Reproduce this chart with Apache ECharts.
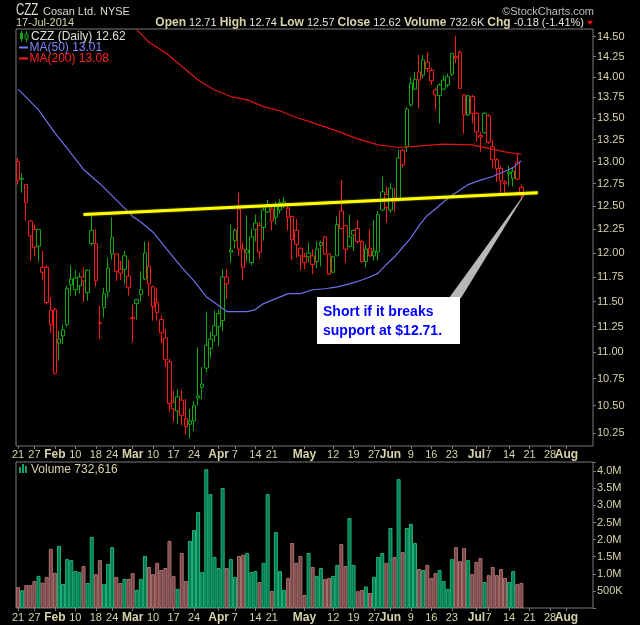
<!DOCTYPE html>
<html><head><meta charset="utf-8">
<script src="https://cdn.jsdelivr.net/npm/echarts@6/dist/echarts.min.js"></script>
<style>html,body{margin:0;padding:0;background:#000;}#c{width:640px;height:625px;}</style>
</head><body><div id="c"></div>
<script>
// ---------- DATA ----------
const dates = ['1/21','1/22','1/23','1/24','1/27','1/28','1/29','1/30','1/31',
'2/3','2/4','2/5','2/6','2/7','2/10','2/11','2/12','2/13','2/14','2/18','2/19','2/20','2/21','2/24','2/25','2/26','2/27','2/28',
'3/3','3/4','3/5','3/6','3/7','3/10','3/11','3/12','3/13','3/14','3/17','3/18','3/19','3/20','3/21','3/24','3/25','3/26','3/27','3/28','3/31',
'4/1','4/2','4/3','4/4','4/7','4/8','4/9','4/10','4/11','4/14','4/15','4/16','4/17','4/21','4/22','4/23','4/24','4/25','4/28','4/29','4/30',
'5/1','5/2','5/5','5/6','5/7','5/8','5/9','5/12','5/13','5/14','5/15','5/16','5/19','5/20','5/21','5/22','5/23','5/27','5/28','5/29','5/30',
'6/2','6/3','6/4','6/5','6/6','6/9','6/10','6/11','6/12','6/13','6/16','6/17','6/18','6/19','6/20','6/23','6/24','6/25','6/26','6/27','6/30',
'7/1','7/2','7/3','7/7','7/8','7/9','7/10','7/11','7/14','7/15','7/16','7/17','7/18','7/21','7/22','7/23','7/24','7/25','7/28','7/29','7/30','7/31',
'8/1','8/4','8/5','8/6','8/7','8/8','8/11'];

const opens = [13.00,12.81,12.74,12.34,12.25,12.25,11.85,11.85,11.27,11.42,11.09,11.16,11.27,11.67,11.62,11.66,11.75,11.59,12.10,12.10,
11.29,11.44,11.60,12.16,11.99,11.83,11.83,11.76,11.34,11.48,11.57,11.73,11.86,11.65,11.49,11.32,11.14,10.91,10.53,10.45,
10.55,10.38,10.36,10.36,10.57,10.70,10.85,11.04,11.16,11.25,11.31,11.75,12.03,12.13,12.47,12.04,12.03,11.90,12.32,12.29,
12.27,12.44,12.47,12.38,12.46,12.51,12.48,12.39,12.24,12.05,11.96,12.00,11.97,11.91,12.11,12.17,11.99,11.80,11.97,12.45,
12.29,12.07,12.24,12.26,12.12,11.91,12.05,11.97,12.01,12.46,12.63,12.46,12.59,12.57,13.13,13.17,13.66,13.85,14.06,14.02,
14.18,14.08,13.84,13.77,13.85,13.90,14.03,14.25,14.30,13.78,13.54,13.76,13.56,13.30,13.33,13.53,13.17,13.02,12.92,12.77,
12.88,12.81,12.99,12.71];
const highs = [13.04,12.87,12.75,12.35,12.30,12.25,12.02,11.87,11.54,11.44,11.21,11.27,11.66,11.87,11.82,11.79,11.85,11.83,12.42,12.25,
11.46,11.64,11.95,12.38,11.99,11.92,12.02,11.93,11.47,11.53,11.81,12.12,12.12,11.66,11.64,11.36,11.23,10.94,10.64,10.65,
10.64,10.56,10.47,10.54,11.05,10.86,11.40,11.20,11.41,11.42,11.83,11.83,12.30,12.26,12.65,12.11,12.40,12.26,12.41,12.33,
12.52,12.57,12.52,12.55,12.58,12.60,12.52,12.39,12.36,12.05,12.00,12.11,12.04,12.12,12.13,12.18,11.99,11.97,12.39,12.79,
12.30,12.41,12.25,12.35,12.14,12.09,12.25,12.35,12.45,12.83,12.72,12.76,12.70,13.13,13.14,13.63,14.00,14.06,14.27,14.27,
14.30,14.11,13.87,13.92,14.02,14.04,14.29,14.51,14.33,13.79,13.78,13.78,13.57,13.34,13.57,13.55,13.25,13.04,12.95,12.79,
12.95,12.93,13.09,12.74];
const lows = [12.74,12.65,12.34,11.92,11.97,11.91,11.72,11.47,11.19,10.79,10.92,11.08,11.25,11.56,11.56,11.58,11.50,11.51,12.08,11.65,
11.13,11.34,11.54,11.93,11.71,11.72,11.68,11.56,11.10,11.32,11.50,11.72,11.56,11.31,11.31,11.09,10.86,10.44,10.35,10.33,
10.32,10.24,10.20,10.27,10.50,10.56,10.81,10.95,11.10,11.06,11.21,11.53,11.90,12.05,11.97,11.72,11.91,11.87,12.12,11.94,
12.13,12.43,12.24,12.30,12.42,12.48,12.24,11.93,11.95,11.82,11.83,11.90,11.78,11.84,11.86,11.98,11.77,11.79,11.97,12.25,
11.90,12.06,12.02,12.10,11.90,11.85,11.96,11.92,11.92,12.45,12.32,12.43,12.44,12.55,12.93,13.11,13.64,13.84,13.62,13.98,
14.06,13.90,13.60,13.44,13.84,13.87,14.01,14.17,13.85,13.32,13.53,13.44,13.23,13.11,13.32,13.20,12.92,12.77,12.63,12.64,
12.72,12.72,12.79,12.57];
const closes = [12.79,12.80,12.54,12.18,12.06,12.07,11.80,11.49,11.41,10.80,11.13,11.22,11.63,11.73,11.74,11.75,11.71,11.82,12.24,11.71,
11.28,11.58,11.84,11.99,11.81,11.79,11.97,11.64,11.33,11.52,11.62,12.00,11.68,11.45,11.39,11.19,10.93,10.52,10.47,10.58,
10.41,10.31,10.33,10.50,10.59,10.67,11.07,11.13,11.26,11.38,11.75,11.68,12.01,12.24,12.04,11.85,12.00,12.17,12.25,12.01,
12.46,12.52,12.34,12.50,12.54,12.55,12.38,12.14,12.09,11.97,11.90,11.96,11.88,12.04,12.08,11.99,11.78,11.96,12.30,12.26,
12.04,12.17,12.19,12.12,11.91,12.04,11.97,12.02,12.41,12.66,12.49,12.70,12.55,13.04,12.96,13.61,13.92,13.97,13.96,14.21,
14.10,13.95,13.78,13.90,13.96,14.00,14.29,14.23,13.86,13.54,13.77,13.56,13.34,13.28,13.56,13.22,13.02,12.92,12.78,12.75,
12.86,12.89,12.80,12.62];
const priorClose = 13.05;

const volumes = [610000,520000,670000,670000,790000,940000,740000,910000,1730000,1030000,
1820000,700000,1430000,1400000,1080000,1050000,1230000,730000,2080000,990000,
1400000,700000,1290000,1780000,910000,730000,850000,850000,1020000,530000,
850000,1520000,1200000,990000,1320000,1110000,1170000,1960000,940000,560000,
1610000,790000,1960000,2280000,2810000,1050000,4060000,3330000,1490000,1170000,
3510000,1170000,1430000,910000,1520000,1560000,1610000,1050000,1080000,760000,
1320000,3330000,500000,2220000,1080000,530000,880000,1900000,1320000,1520000,
380000,1610000,1200000,940000,1170000,850000,880000,940000,1260000,1870000,
1230000,2630000,1260000,490000,530000,630000,440000,910000,1490000,1610000,
1320000,2340000,1490000,3770000,1640000,2340000,2460000,1900000,1140000,1110000,
1260000,880000,1020000,1110000,790000,560000,1430000,1780000,1370000,1750000,
1400000,990000,1350000,1460000,760000,960000,1200000,960000,1140000,880000,
760000,1080000,700000,732616];

const ma50Idx = [0,5,9,12,16,20,24,28,30,33,36,40,43,46,49,51,53,56,58,60,63,66,69,72,75,78,81,84,86,88,90,92,94,96,98,100,102,104,106,108,110,113,116,119,121,123];
const ma50Val = [13.85,13.60,13.33,13.15,12.91,12.75,12.57,12.39,12.33,12.22,12.06,11.85,11.71,11.55,11.46,11.40,11.40,11.40,11.42,11.48,11.53,11.58,11.58,11.62,11.63,11.65,11.68,11.72,11.75,11.79,11.88,11.96,12.06,12.16,12.29,12.40,12.47,12.55,12.62,12.68,12.74,12.79,12.83,12.89,12.93,13.01];
const ma200Idx = [29,32,36,40,44,48,52,56,60,64,68,72,78,83,88,93,96,104,111,115,119,123];
const ma200Val = [14.59,14.43,14.30,14.13,13.96,13.84,13.76,13.72,13.64,13.59,13.51,13.45,13.35,13.26,13.19,13.16,13.17,13.20,13.19,13.15,13.11,13.08];

const trendIdx = [16, 127];
const trendVal = [12.41, 12.65];

const priceTicks = [10.25,10.5,10.75,11.0,11.25,11.5,11.75,12.0,12.25,12.5,12.75,13.0,13.25,13.5,13.75,14.0,14.25,14.5];
const dateLabels = {'1/21':'21','1/27':'27','2/3':'Feb','2/10':'10','2/18':'18','2/24':'24','3/3':'Mar','3/10':'10','3/17':'17','3/24':'24',
'4/1':'Apr','4/7':'7','4/14':'14','4/21':'21','5/1':'May','5/12':'12','5/19':'19','5/27':'27','6/2':'Jun','6/9':'9','6/16':'16','6/23':'23',
'7/1':'Jul','7/7':'7','7/14':'14','7/21':'21','7/28':'28','8/1':'Aug'};
const monthNames = ['Feb','Mar','Apr','May','Jun','Jul','Aug'];

// ---------- STYLE ----------
const GREEN = '#12a812', RED = '#ff1a1a';
const VG = '#007c52', VGB = '#22b478', VR = '#7a4848', VRB = '#ad7070';
const TXT = '#d6d3aa', FRAME = '#7a7a7a', FONT = 'Liberation Sans, Arial, sans-serif';

const last = closes.length - 1;
const candleData = opens.map((o, i) => {
  const prev = i ? closes[i - 1] : priorClose;
  const col = closes[i] >= prev ? GREEN : RED;
  return { value: [o, closes[i], lows[i], highs[i]],
    itemStyle: { color: '#000', color0: col, borderColor: col, borderColor0: col } };
});
const volData = volumes.map((v, i) => {
  const prev = i ? closes[i - 1] : priorClose;
  const up = closes[i] >= prev;
  return { value: v, itemStyle: { color: up ? VG : VR, borderColor: up ? VGB : VRB } };
});

const xLabel = {
  interval: 0, color: TXT, fontSize: 11, fontFamily: FONT,
  formatter: v => { const l = dateLabels[v]; if (!l) return ''; return monthNames.includes(l) ? '{m|' + l + '}' : l; },
  rich: { m: { fontWeight: 'bold', fontSize: 12, color: TXT, fontFamily: FONT } }
};
const xTick = { show: true, alignWithLabel: true, interval: (i, v) => !!dateLabels[v], length: 3, lineStyle: { color: FRAME } };

const chg = closes[last] - closes[last - 1];
const pct = chg / closes[last - 1] * 100;
const fmtVol = v => (v / 1000).toFixed(1) + 'K';

const chart = echarts.init(document.getElementById('c'), null, { renderer: 'canvas' });
chart.setOption({
  backgroundColor: '#000',
  animation: false,
  grid: [
    { left: 16, right: 47, top: 29, height: 417, show: true, borderColor: FRAME, borderWidth: 1, backgroundColor: '#000' },
    { left: 16, right: 47, top: 462, height: 146, show: true, borderColor: FRAME, borderWidth: 1, backgroundColor: '#000' }
  ],
  xAxis: [
    { type: 'category', gridIndex: 0, data: dates, boundaryGap: true, axisLine: { show: false },
      axisTick: xTick, axisLabel: Object.assign({ margin: 3 }, xLabel), splitLine: { show: false } },
    { type: 'category', gridIndex: 1, data: dates, boundaryGap: true, axisLine: { show: false },
      axisTick: xTick, axisLabel: Object.assign({ margin: 4 }, xLabel), splitLine: { show: false } }
  ],
  yAxis: [
    { type: 'log', logBase: 10, gridIndex: 0, position: 'right', min: 10.135, max: 14.598,
      axisLine: { show: false }, splitLine: { show: false },
      axisTick: { show: true, customValues: priceTicks, length: 3, lineStyle: { color: FRAME } },
      axisLabel: { customValues: priceTicks, formatter: v => Number(v).toFixed(2), color: TXT, fontSize: 11, fontFamily: FONT, margin: 4 } },
    { type: 'value', gridIndex: 1, position: 'right', min: 0, max: 4270000, interval: 500000,
      axisLine: { show: false }, splitLine: { show: false },
      axisTick: { show: true, length: 3, lineStyle: { color: FRAME } },
      axisLabel: { color: TXT, fontSize: 11, fontFamily: FONT, margin: 4,
        formatter: v => { if (v <= 0 || v % 500000 !== 0) return ''; return v < 1000000 ? (v / 1000) + 'K' : (v / 1000000).toFixed(1) + 'M'; } } }
  ],
  series: [
    { type: 'candlestick', xAxisIndex: 0, yAxisIndex: 0, barWidth: 4, barMaxWidth: 4, data: candleData, itemStyle: { borderWidth: 1 }, z: 2 },
    { type: 'line', xAxisIndex: 0, yAxisIndex: 0, data: ma200Idx.map((d, k) => [d, ma200Val[k]]), symbol: 'none', smooth: false,
      lineStyle: { color: '#e01414', width: 1.2 }, z: 3 },
    { type: 'line', xAxisIndex: 0, yAxisIndex: 0, data: ma50Idx.map((d, k) => [d, ma50Val[k]]), symbol: 'none', smooth: false,
      lineStyle: { color: '#6f6fe8', width: 1.2 }, z: 3 },
    { type: 'line', xAxisIndex: 0, yAxisIndex: 0, data: trendIdx.map((d, k) => [d, trendVal[k]]), symbol: 'none',
      lineStyle: { color: '#ffff00', width: 3, shadowColor: '#8a8a00', shadowBlur: 2 }, z: 4 },
    { type: 'bar', xAxisIndex: 1, yAxisIndex: 1, data: volData, barWidth: 4, itemStyle: { borderWidth: 1 } }
  ],
  graphic: [
    { type: 'text', z: 10, x: 16, scaleX: 0.72, style: { x: 0, y: 11, text: 'CZZ', fill: '#dcdcc8', font: '16px ' + FONT, verticalAlign: 'middle', textVerticalAlign: 'middle' } },
    { type: 'text', z: 10, style: { x: 43, y: 12, text: 'Cosan Ltd.', fill: '#dcdcc8', font: '11px ' + FONT, verticalAlign: 'middle', textVerticalAlign: 'middle' } },
    { type: 'text', z: 10, style: { x: 100, y: 12, text: 'NYSE', fill: '#dcdcc8', font: '11px ' + FONT, verticalAlign: 'middle', textVerticalAlign: 'middle' } },
    { type: 'text', z: 10, style: { x: 594, y: 12, text: '\u00A9StockCharts.com', fill: '#bdbdbd', font: '11px ' + FONT, align: 'right', textAlign: 'right', verticalAlign: 'middle', textVerticalAlign: 'middle' } },
    { type: 'text', z: 10, style: { x: 16, y: 23, text: '17-Jul-2014', fill: TXT, font: '11px ' + FONT, verticalAlign: 'middle', textVerticalAlign: 'middle' } },
    { type: 'text', z: 10, style: { x: 584, y: 23, align: 'right', textAlign: 'right', verticalAlign: 'middle', textVerticalAlign: 'middle',
      text: '{b|Open} ' + opens[last].toFixed(2) + ' {b|High} ' + highs[last].toFixed(2) + ' {b|Low} ' + lows[last].toFixed(2) +
        ' {b|Close} ' + closes[last].toFixed(2) + ' {b|Volume} ' + fmtVol(volumes[last]) + ' {b|Chg} ' + chg.toFixed(2) + ' (' + pct.toFixed(2) + '%)',
      fill: '#e4e4d4', font: '11px ' + FONT,
      rich: { b: { fontWeight: 'bold', fontSize: 12, fill: TXT, color: TXT, fontFamily: FONT } } } },
    { type: 'polygon', z: 10, shape: { points: [[587, 21], [593, 21], [590, 25]] }, style: { fill: '#ff0000' } },
    // price legend
    { type: 'line', z: 10, shape: { x1: 21.5, y1: 31, x2: 21.5, y2: 42 }, style: { stroke: GREEN, lineWidth: 1 } },
    { type: 'rect', z: 10, shape: { x: 20, y: 33, width: 3, height: 6 }, style: { fill: GREEN } },
    { type: 'line', z: 10, shape: { x1: 26.5, y1: 31, x2: 26.5, y2: 42 }, style: { stroke: GREEN, lineWidth: 1 } },
    { type: 'rect', z: 10, shape: { x: 25, y: 34, width: 3, height: 5 }, style: { fill: '#000', stroke: GREEN, lineWidth: 1 } },
    { type: 'text', z: 10, style: { x: 31, y: 37, text: 'CZZ (Daily) ' + closes[last].toFixed(2), fill: '#e0e0d0', font: '12px ' + FONT, verticalAlign: 'middle', textVerticalAlign: 'middle' } },
    { type: 'line', z: 10, shape: { x1: 19, y1: 47.5, x2: 28, y2: 47.5 }, style: { stroke: '#7878f0', lineWidth: 2 } },
    { type: 'text', z: 10, style: { x: 29.5, y: 48, text: 'MA(50) ' + ma50Val[ma50Val.length - 1].toFixed(2), fill: '#8484ff', font: '12px ' + FONT, verticalAlign: 'middle', textVerticalAlign: 'middle' } },
    { type: 'line', z: 10, shape: { x1: 19, y1: 58.5, x2: 28, y2: 58.5 }, style: { stroke: '#ff1c1c', lineWidth: 2 } },
    { type: 'text', z: 10, style: { x: 29.5, y: 59, text: 'MA(200) ' + ma200Val[ma200Val.length - 1].toFixed(2), fill: '#ff2424', font: '12px ' + FONT, verticalAlign: 'middle', textVerticalAlign: 'middle' } },
    // volume legend
    { type: 'rect', z: 10, shape: { x: 19, y: 467, width: 2, height: 6 }, style: { fill: '#12a070' } },
    { type: 'rect', z: 10, shape: { x: 22, y: 464, width: 2, height: 9 }, style: { fill: '#12a070' } },
    { type: 'rect', z: 10, shape: { x: 25, y: 466, width: 2, height: 7 }, style: { fill: '#12a070' } },
    { type: 'text', z: 10, style: { x: 31, y: 470, text: 'Volume ' + volumes[last].toLocaleString('en-US'), fill: TXT, font: '12px ' + FONT, verticalAlign: 'middle', textVerticalAlign: 'middle' } },
    // annotation
    { type: 'polygon', z: 11, shape: { points: [[449, 298], [461, 298], [528, 189]] }, style: { fill: '#b8b8b8' } },
    { type: 'rect', z: 12, shape: { x: 317, y: 297, width: 143, height: 47 }, style: { fill: '#ffffff' } },
    { type: 'text', z: 13, style: { x: 323, y: 303, text: 'Short if it breaks\nsupport at $12.71.', fill: '#0000ff', font: 'bold 14px ' + FONT, lineHeight: 19 } }
  ]
});
</script>
</body></html>
